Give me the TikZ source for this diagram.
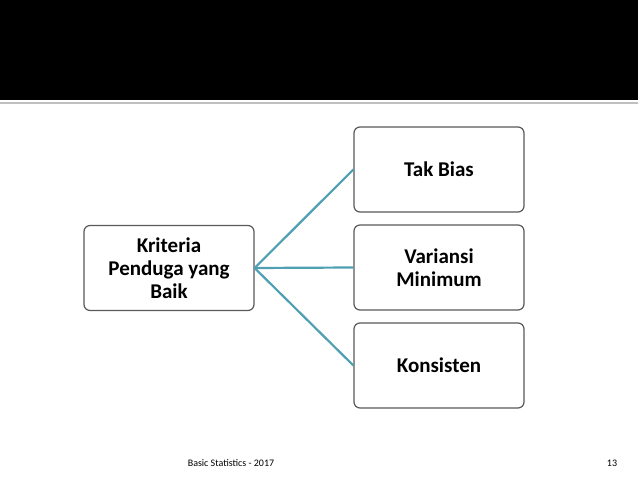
\documentclass[tikz,border=0pt]{standalone}
\usepackage{fontspec}
\setmainfont{Carlito}
\begin{document}
\begin{tikzpicture}[x=1pt,y=-1pt,
 box/.style={draw=black!65,line width=1.2pt,rounded corners=6pt,minimum width=170pt,minimum height=85pt,align=center,font=\bfseries\fontsize{21}{23}\selectfont,fill=white},
 conn/.style={draw={rgb,255:red,80;green,160;blue,180},line width=2.2pt}]
\useasboundingbox (0,0) rectangle (638,478);
\fill[black] (0,0) rectangle (638,100);
\fill[black!25] (0,102) rectangle (638,104.5);
\node[box] (k) at (169,268) {Kriteria\\Penduga yang\\Baik};
\node[box] (a) at (439,169.5) {Tak Bias};
\node[box] (b) at (439,267.5) {Variansi\\Minimum};
\node[box] (c) at (439,365.5) {Konsisten};
\draw[conn] (k.east) -- (a.west);
\draw[conn] (k.east) -- (b.west);
\draw[conn] (k.east) -- (c.west);
\node[font=\fontsize{10}{12}\selectfont] (f) at (231,463) {Basic Statistics - 2017};
\node[font=\fontsize{10}{12}\selectfont] (p) at (612,463) {13};
\end{tikzpicture}
\end{document}
